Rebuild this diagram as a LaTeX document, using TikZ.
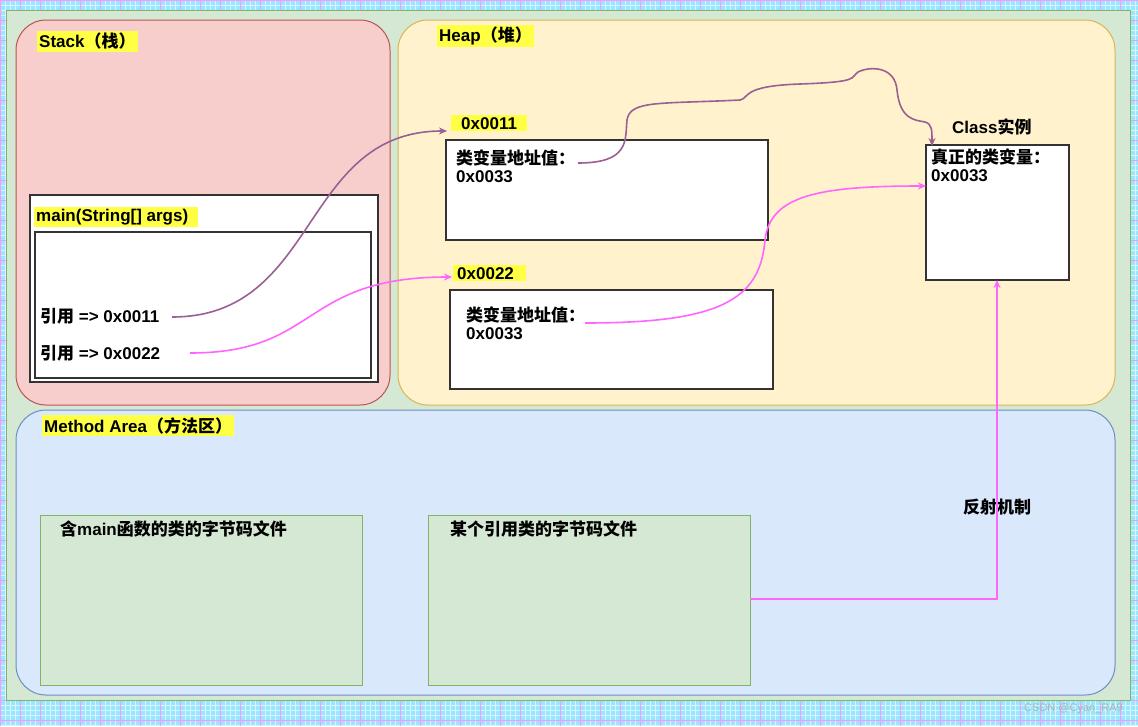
\documentclass[tikz,border=0pt]{standalone}
\usepackage{fontspec}
\setmainfont{Liberation Sans}
\newfontfamily\cjk{Noto Sans CJK SC}
\newcommand{\zh}[1]{{\cjk\bfseries #1}}
\usetikzlibrary{arrows.meta}
\definecolor{bgc}{HTML}{99E6FF}
\definecolor{gfill}{HTML}{D5E8D4}\definecolor{gline}{HTML}{82B366}
\definecolor{rfill}{HTML}{F8CECC}\definecolor{rline}{HTML}{B85450}
\definecolor{yfill}{HTML}{FFF2CC}\definecolor{yline}{HTML}{D6B656}
\definecolor{bfill}{HTML}{DAE8FC}\definecolor{bline}{HTML}{6C8EBF}
\definecolor{purp}{HTML}{9A5F93}\definecolor{pink}{HTML}{FF66FF}
\definecolor{hl}{HTML}{FFFF44}
\begin{document}
\begin{tikzpicture}[x=1pt,y=-1pt,
  txt/.style={font=\fontsize{17}{20}\selectfont\bfseries, inner sep=2pt, anchor=north west, align=left},
  lab/.style={txt, fill=hl},
  box/.style={draw=black!80, fill=white, line width=1.4pt},
  pa/.style={draw=purp, line width=1.6pt, -{Stealth[length=8pt,width=7pt]}},
  pk/.style={draw=pink, line width=1.6pt, -{Stealth[length=8pt,width=7pt]}}]
\useasboundingbox (0,0) rectangle (1138,726);
\fill[bgc] (0,0) rectangle (1138,726);
\draw[white!60!bgc, line width=0.4pt, step=5pt] (0,0) grid (1138,726);
\draw[pink!70, line width=0.6pt, step=20pt] (0,0) grid (1138,726);
\draw[gline, fill=gfill, line width=1pt] (6,10) rectangle (1130,700);
\draw[rline, fill=rfill, line width=1pt, rounded corners=30pt] (16,20) rectangle (390,405);
\draw[yline, fill=yfill, line width=1pt, rounded corners=30pt] (398,20) rectangle (1115,405);
\draw[bline, fill=bfill, line width=1pt, rounded corners=30pt] (16,410) rectangle (1115,695);
\node[lab] (stk) at (37,31) {Stack\zh{（栈）}};
\node[lab] (hp) at (437,25) {Heap\zh{（堆）}};
\node[lab] (ma) at (42,415) {Method Area\zh{（方法区）}};
\draw[box] (30,195) rectangle (378,382);
\draw[box] (35,232) rectangle (371,378);
\node[lab] (mn) at (34,207) {main(String[] args)\hspace{8pt}};
\node[txt] (r1) at (38,306) {\zh{引用} => 0x0011};
\node[txt] (r2) at (38,343) {\zh{引用} => 0x0022};
\draw[box] (446,140) rectangle (768,240);
\draw[box] (450,290) rectangle (773,389);
\draw[box] (926,145) rectangle (1069,280);
\node[lab] (a1) at (451,115) {\hspace{8pt}0x0011\hspace{8pt}};
\node[lab] (a2) at (453,265) {\hspace{2pt}0x0022\hspace{10pt}};
\node[txt] (h1) at (454,148) {\zh{类变量地址值：}\\[-2pt]0x0033};
\node[txt] (h2) at (464,305) {\zh{类变量地址值：}\\[-2pt]0x0033};
\node[txt] (ci) at (950,116) {Class\zh{实例}};
\node[txt] (cv) at (929,147) {\zh{真正的类变量：}\\[-2pt]0x0033};
\draw[gline, fill=gfill, line width=1pt] (40,515) rectangle (362,685);
\draw[gline, fill=gfill, line width=1pt] (428,515) rectangle (750,685);
\node[txt] (m1) at (58,519) {\zh{含}main\zh{函数的类的字节码文件}};
\node[txt] (m2) at (448,519) {\zh{某个引用类的字节码文件}};
\node[txt, fill=bfill] (fs) at (961,497) {\zh{反射机制}};
\coordinate (p1s) at (172,317);
\coordinate (p1e) at (447,131);
\draw[pa] (p1s) .. controls (320,317) and (300,131) .. (p1e);
\coordinate (p2s) at (578,163);
\coordinate (p2e) at (932,146);
\draw[pa] (p2s) .. controls (630,163) and (625,140) .. (627,120)
  .. controls (630,100) and (660,104) .. (740,100)
  .. controls (750,98) and (740,86) .. (800,84)
  .. controls (860,82) and (850,78) .. (858,72)
  .. controls (870,66) and (895,66) .. (897,90)
  .. controls (900,120) and (915,120) .. (925,122)
  .. controls (932,124) and (932,130) .. (p2e);
\coordinate (q1s) at (190,353);
\coordinate (q1e) at (452,277);
\draw[pk] (q1s) .. controls (320,353) and (300,277) .. (q1e);
\coordinate (q2s) at (585,323);
\coordinate (q2e) at (926,186);
\draw[pk] (q2s) .. controls (720,323) and (760,300) .. (765,240)
  .. controls (770,195) and (820,186) .. (q2e);
\coordinate (q3s) at (750,599);
\coordinate (q3c) at (997,599);
\coordinate (q3e) at (997,280);
\draw[pk, line width=1.4pt] (q3s) -- (q3c) -- (q3e);
\node[anchor=south east, text=gray!60, font=\fontsize{11}{12}\selectfont, inner sep=2pt] (wm) at (1125,716) {CSDN @Cyan\_RA9};
\end{tikzpicture}
\end{document}
